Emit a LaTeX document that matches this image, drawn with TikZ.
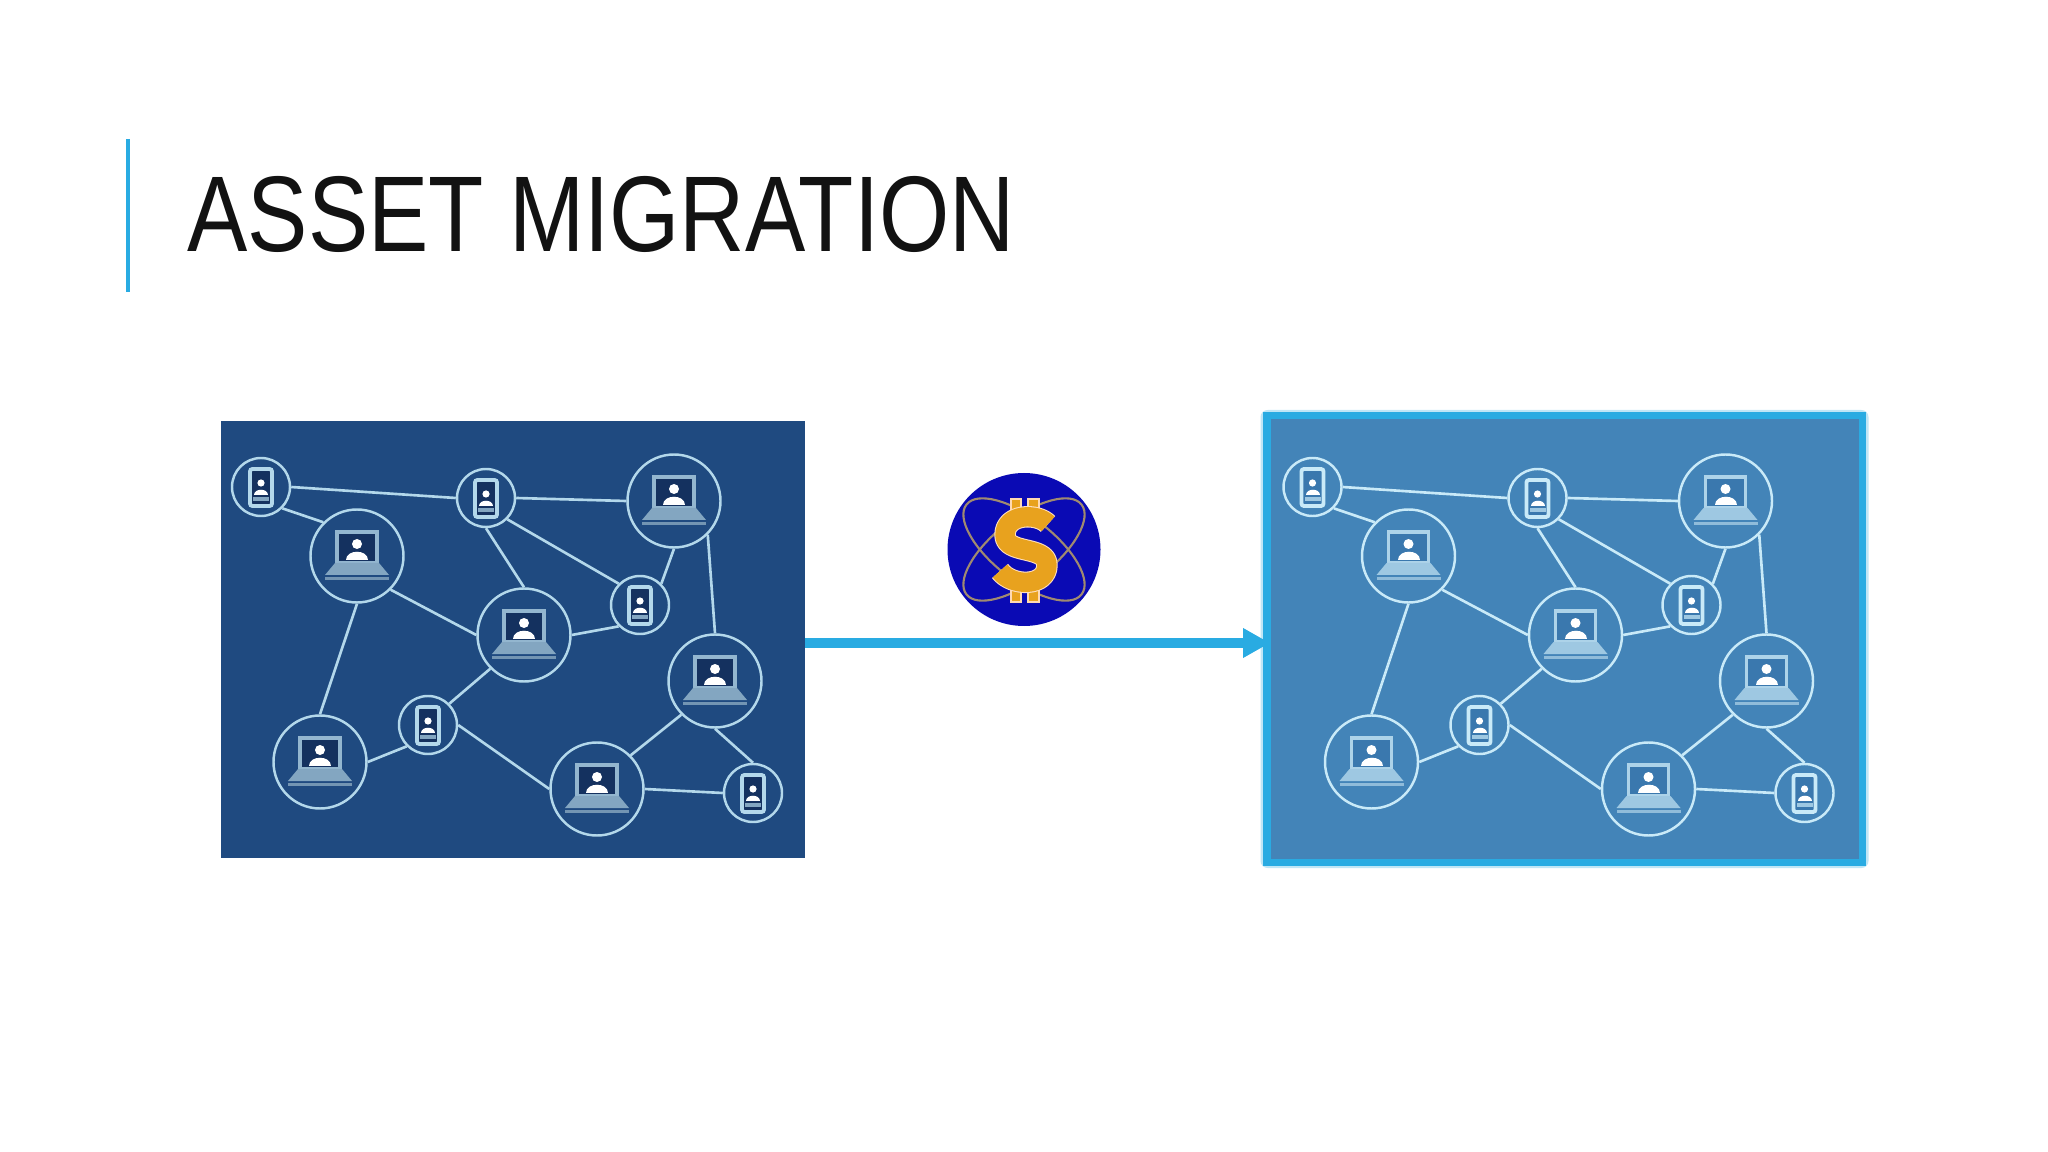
\documentclass[tikz,border=0pt]{standalone}
\usepackage{fontspec}
\usetikzlibrary{arrows.meta}
\newfontfamily\titlefont[FakeStretch=0.84]{Liberation Sans}
\definecolor{accentblue}{HTML}{29ABE2}
\definecolor{darkpanel}{HTML}{1F4A80}
\definecolor{lightpanel}{HTML}{4384B8}
\definecolor{darkscreen}{HTML}{14315F}
\definecolor{lightscreen}{HTML}{3A78AE}
\definecolor{coinblue}{HTML}{0A0AB4}
\definecolor{coingold}{HTML}{E8A21E}
\definecolor{orbittan}{HTML}{A08A70}
\tikzset{
  hostring/.style={draw=netline, circle, line width=0.7pt, inner sep=0pt, minimum size=93*0.01cm},
  phonering/.style={draw=netline, circle, line width=0.7pt, inner sep=0pt, minimum size=58*0.01cm},
  link/.style={draw=netline, line width=0.75pt},
  phoneicon/.pic={
    \draw[netline, line width=1.1pt, fill=netscreen, rounded corners=0.7pt] (-11,-18) rectangle (11,19);
    \fill[netline!70!netscreen] (-8,10) rectangle (8,14);
    \fill[white] (0,-4) circle (3.6);
    \fill[white] (-7,8) .. controls (-7,1) and (7,1) .. (7,8) -- cycle;
  },
  laptopicon/.pic={
    \draw[netline!80!netscreen, line width=0.9pt, fill=netscreen] (-20,-24) rectangle (20,7);
    \fill[white] (0,-12) circle (5);
    \fill[white] (-11,4) .. controls (-11,-7) and (11,-7) .. (11,4) -- cycle;
    \fill[netline!70!netscreen] (-22,7) -- (22,7) -- (32,19) -- (-32,19) -- cycle;
    \fill[netline!60!netscreen] (-32,21) rectangle (32,24);
  },
}
\newcommand{\drawnet}[2]{%
  \begin{scope}[shift={(#2,0)}]
    \foreach \nm/\px/\py in {p1/261/487, p2/486/498, p3/640/605, p4/428/725, p5/753/793} {
      \node[phonering] (#1\nm) at (\px,\py) {};
      \pic at (\px,\py) {phoneicon};
    }
    \foreach \nm/\px/\py in {l1/357/556, l2/674/501, l3/524/635, l4/715/681, l5/320/762, l6/597/789} {
      \node[hostring] (#1\nm) at (\px,\py) {};
      \pic at (\px,\py) {laptopicon};
    }
    \foreach \a/\aa/\b/\bb in {p1/0/p2/180, p1/-45/l1/135, p2/0/l2/180, p2/-90/l3/90, p2/-45/p3/135,
                               l2/-90/p3/45, l2/-45/l4/90, l1/-45/l3/180, l1/-90/l5/90, l3/0/p3/-135,
                               l3/-135/p4/45, p4/-135/l5/0, p4/0/l6/180, l4/-135/l6/45, l4/-90/p5/90, l6/0/p5/180}
      \draw[link] (#1\a.\aa) -- (#1\b.\bb);
  \end{scope}
}
\begin{document}
\begin{tikzpicture}[x=0.01cm, y=-0.01cm]
\useasboundingbox (0,0) rectangle (2048,1152);

% Titel
\draw[accentblue, line width=1pt] (128,139) coordinate (bartop) -- (128,292) coordinate (barbottom);
\node[anchor=base west, inner sep=0pt, font=\titlefont\fontsize{30.6pt}{30.6pt}\selectfont, text=black!93] (title) at (187,252) {ASSET MIGRATION};

% Netze
\node[fill=darkpanel, inner sep=0pt, outer sep=0pt, minimum width=584*0.01cm, minimum height=437*0.01cm] (leftpanel) at (513,639.5) {};
\colorlet{netline}{white!72!accentblue!90!darkpanel}
\colorlet{netscreen}{darkscreen}
\drawnet{a}{0}

\node[fill=accentblue!30, rounded corners=2pt, inner sep=0pt, outer sep=0pt, minimum width=608*0.01cm, minimum height=458*0.01cm] (rightglow) at (1564.5,639) {};
\node[draw=accentblue, fill=lightpanel, line width=2pt, inner sep=0pt, outer sep=0pt, minimum width=595*0.01cm, minimum height=447*0.01cm] (rightpanel) at (1564.5,639) {};
\colorlet{netline}{white!75!accentblue}
\colorlet{netscreen}{lightscreen}
\drawnet{b}{1051.5}

% Pfeil
\draw[accentblue, line width=2.65pt, -{Triangle[length=27*0.01cm, width=28*0.01cm]}, shorten >=-3*0.01cm] (leftpanel.east |- 0,643) -- (rightpanel.west |- 0,643);

% Logo
\node[circle, fill=coinblue, inner sep=0pt, minimum size=153*0.01cm] (coin) at (1024,549.5) {};
\draw[orbittan, line width=0.6pt, rotate around={38:(coin.center)}] (coin.center) ellipse (73 and 31);
\draw[orbittan, line width=0.6pt, rotate around={-38:(coin.center)}] (coin.center) ellipse (73 and 31);
\foreach \py in {499, 588} {
  \fill[coingold, draw=orange!30, line width=0.3pt] (1011,\py) rectangle (1021,\py+14);
  \fill[coingold, draw=orange!30, line width=0.3pt] (1028,\py) rectangle (1039,\py+14);
}
\draw[orange!25, line width=6.1pt, line join=round] (1048,524) .. controls (1038,513) and (1005,513) .. (1005,535) .. controls (1005,555) and (1047,545) .. (1047,565) .. controls (1047,587) and (1012,587) .. (1000,571);
\draw[coingold, line width=5.5pt, line join=round] (1048,524) .. controls (1038,513) and (1005,513) .. (1005,535) .. controls (1005,555) and (1047,545) .. (1047,565) .. controls (1047,587) and (1012,587) .. (1000,571);
\end{tikzpicture}
\end{document}
